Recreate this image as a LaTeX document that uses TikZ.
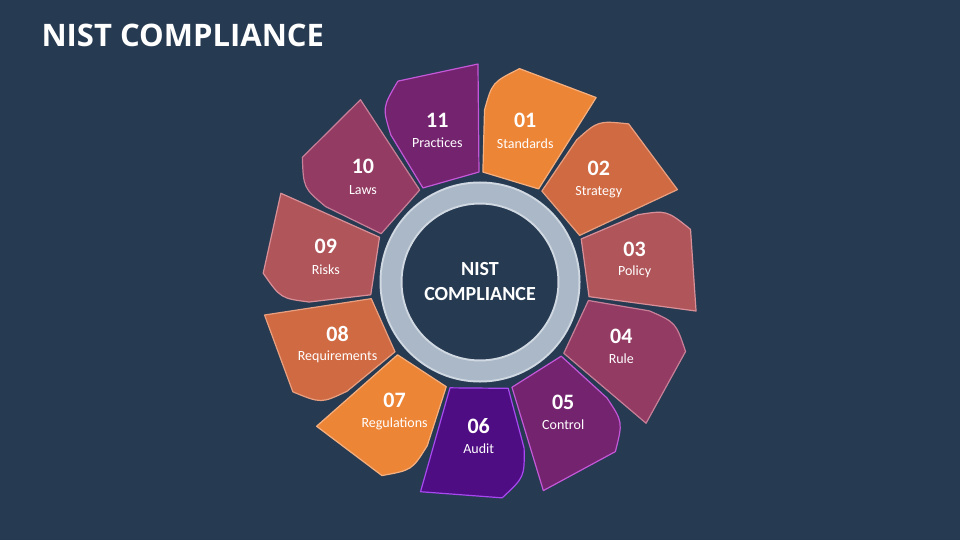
\documentclass[tikz,border=0pt]{standalone}
\usepackage{fontspec}
\setmainfont{Carlito}
\newfontfamily\titlefont{Open Sans}
\usetikzlibrary{calc}
\definecolor{bg}{HTML}{263A52}
\definecolor{cA}{HTML}{ED8537}\definecolor{bA}{HTML}{F5B080}
\definecolor{cB}{HTML}{D06A43}\definecolor{bB}{HTML}{E8A080}
\definecolor{cC}{HTML}{B0555A}\definecolor{bC}{HTML}{D89098}
\definecolor{cD}{HTML}{933B63}\definecolor{bD}{HTML}{C88098}
\definecolor{cE}{HTML}{74236F}\definecolor{bE}{HTML}{C458D8}
\definecolor{cF}{HTML}{4F0D84}\definecolor{bF}{HTML}{A848F0}
\definecolor{ringc}{HTML}{ABB8C8}\definecolor{ringb}{HTML}{D0D8E2}
\tikzset{seg/.style={line width=1.2pt,line join=round},
 numtxt/.style={text=white,font=\bfseries\fontsize{22}{24}\selectfont},
 labtxt/.style={text=white,font=\fontsize{14}{16}\selectfont}}
\begin{document}
\begin{tikzpicture}[x=1pt,y=1pt]
\fill[bg] (0,0) rectangle (960,-540);
\useasboundingbox (0,0) rectangle (960,-540);
\node[anchor=west,text=white,font=\titlefont\bfseries\fontsize{31}{34}\selectfont] (title) at (38,-35) {NIST COMPLIANCE};
\coordinate (c) at (480,-282);
\foreach \k/\f/\b/\n/\l in {1/cA/bA/01/Standards,2/cB/bB/02/Strategy,3/cC/bC/03/Policy,4/cD/bD/04/Rule,5/cE/bE/05/Control,6/cF/bF/06/Audit,7/cA/bA/07/Regulations,8/cB/bB/08/Requirements,9/cC/bC/09/Risks,10/cD/bD/10/Laws,11/cE/bE/11/Practices}{
 \pgfmathsetmacro\ao{88.5-(\k-1)*32.727}
 \pgfmathsetmacro\ae{\ao-30.7}
 \pgfmathsetmacro\am{\ao-15.35}
 \pgfmathsetmacro\an{\ao-9}
 \pgfmathsetmacro\ac{\ao-2}
 \draw[seg,fill=\f,draw=\b] ($(c)+(\ao:110)$) -- ($(c)+(\ao:172)$)
   .. controls ($(c)+(\ac:200)$) .. ($(c)+(\an:217)$)
   -- ($(c)+(\ae:218)$) -- ($(c)+(\ae:110)$) -- cycle;
 \node[numtxt] (n\k) at ($(c)+(\am:156)+(0,12)$) {\n};
 \node[labtxt] (l\k) at ($(c)+(\am:156)+(0,-11)$) {\l};
}
\draw[ringb,line width=23pt] (c) circle (89);
\draw[ringc,line width=19pt] (c) circle (89);
\node[align=center,text=white,font=\bfseries\fontsize{20}{25}\selectfont] (ctr) at (c) {NIST\\COMPLIANCE};
\end{tikzpicture}
\end{document}
